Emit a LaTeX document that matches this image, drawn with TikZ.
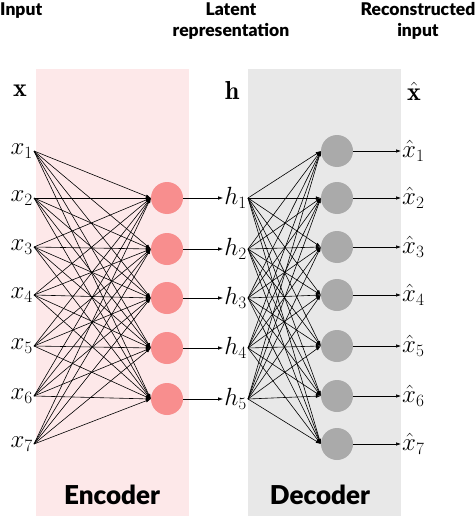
\documentclass[tikz,border=0pt]{standalone}
\usepackage{fontspec}
\newfontfamily\labelfont{Lato}[BoldFont={Lato Black}]
\usetikzlibrary{arrows.meta}
\definecolor{encbg}{RGB}{253,232,233}
\definecolor{decbg}{RGB}{232,232,232}
\definecolor{encnode}{RGB}{248,142,142}
\definecolor{decnode}{RGB}{170,170,170}
\tikzset{
  mathlab/.style={inner sep=1pt,font=\fontsize{24}{28}\selectfont},
  boldlab/.style={inner sep=0pt,font=\fontsize{26}{30}\selectfont},
  title/.style={inner sep=0pt,align=center,font=\labelfont\bfseries\fontsize{17.5}{21}\selectfont},
  bigtitle/.style={inner sep=0pt,font=\labelfont\bfseries\fontsize{26}{30}\selectfont},
  encunit/.style={circle,fill=encnode,minimum size=32pt,inner sep=0pt},
  decunit/.style={circle,fill=decnode,minimum size=32pt,inner sep=0pt},
  conn/.style={line width=0.6pt,-{Latex[length=5pt,width=3.5pt]}},
}
\begin{document}
\begin{tikzpicture}[x=1pt,y=-1pt]
\useasboundingbox (0,0) rectangle (474,516);
\fill[encbg] (36,69) rectangle (189,516);
\fill[decbg] (248,69) rectangle (401,516);
% titles
\node[title,anchor=west] (tin) at (0,11) {Input};
\node[title] (tlat) at (231,21) {Latent\\representation};
\node[title] (trec) at (418,21) {Reconstructed\\input};
\node[boldlab] (bx) at (20,91) {$\mathbf{x}$};
\node[boldlab] (bh) at (232,90) {$\mathbf{h}$};
\node[boldlab] (bxh) at (414,91) {$\hat{\mathbf{x}}$};
\node[bigtitle] (enc) at (112,495) {Encoder};
\node[bigtitle] (dec) at (320,495) {Decoder};
% inputs and outputs
\foreach \i/\y in {1/151,2/198,3/247,4/295,5/346,6/396,7/444}{
  \node[mathlab,anchor=east] (x\i) at (34,\y) {$x_{\i}$};
  \node[decunit] (d\i) at (337,\y) {};
  \node[mathlab,anchor=west] (xh\i) at (401,\y) {$\hat{x}_{\i}$};
  \draw[conn] (d\i.east) -- (xh\i.west);
}
% latent
\foreach \j/\y in {1/198,2/249,3/298,4/348,5/399}{
  \node[encunit] (e\j) at (167,\y) {};
  \node[mathlab,anchor=east] (h\j) at (248,\y) {$h_{\j}$};
  \draw[conn] (e\j.east) -- (h\j.west);
}
\foreach \i in {1,...,7}{
  \foreach \j in {1,...,5}{
    \draw[conn] (x\i.east) -- (e\j.west);
    \draw[conn] (h\j.east) -- (d\i.west);
  }
}
\end{tikzpicture}
\end{document}
